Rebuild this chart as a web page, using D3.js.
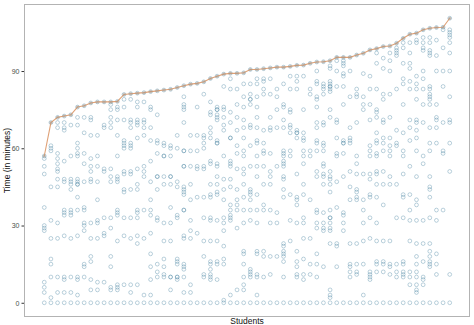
<!DOCTYPE html>
<html>
<head>
<meta charset="utf-8">
<script src="https://cdn.jsdelivr.net/npm/d3@7"></script>
<style>
  html, body { margin: 0; padding: 0; background: #fff; }
  svg { display: block; font-family: "Liberation Sans", Arial, sans-serif; }
</style>
</head>
<body>
<div id="chart"></div>
<script>
// ---------------------------------------------------------------
// Data: attempt times (minutes) per student, students sorted by max
// ---------------------------------------------------------------
const yTicks = [0, 30, 60, 90];
const xTitle = 'Students';
const yTitle = 'Time (in minutes)';

const studentTimes = [
  [57, 56, 53, 50, 37, 30, 29, 28, 8, 6, 4, 0],
  [70, 61, 60, 59, 45, 32, 25, 17, 15, 10, 2, 0],
  [72, 70, 68, 58, 56, 54, 52, 51, 48, 45, 31, 25, 10, 4, 0],
  [72.5, 70, 68, 67, 55, 48, 47, 34, 36, 35, 26, 10, 9, 4, 0],
  [73, 69, 57, 48, 47, 46, 44, 36, 35, 34, 25, 10, 4, 0],
  [76, 72, 69, 62, 60, 58, 57, 48, 47, 46, 46, 41, 36, 26, 10, 9, 3, 0],
  [76.5, 72, 66, 58, 54, 47, 37, 36, 31, 30, 28, 15, 14, 10, 0],
  [77.6, 72, 71, 65, 56, 53, 51, 48, 47, 31, 25, 18, 16, 9, 5, 0],
  [78, 65, 57, 53, 47, 40, 32, 31, 25, 8, 5, 0],
  [78, 69, 68, 52, 51, 33, 27, 26, 8, 0],
  [78, 77, 75, 72, 70, 68, 52, 49, 47, 33, 29, 18, 14, 6, 5, 0],
  [78.2, 76, 75, 71, 65, 57, 49, 48, 47, 36, 35, 34, 24, 7, 6, 5, 0],
  [80.9, 79, 76, 71, 63, 62, 61, 60, 51, 50, 44, 43, 33, 26, 7, 0],
  [81.2, 79, 71, 70, 68, 62, 61, 60, 51, 50, 44, 33, 25, 7, 4, 0],
  [81.4, 78, 76, 71, 70, 69, 64, 52, 46, 44, 36, 35, 33, 26, 23, 7, 0],
  [81.6, 78, 71, 70, 68, 65, 53, 51, 49, 36, 25, 3, 0],
  [82, 76, 75, 68, 63, 55, 47, 40, 36, 34, 27, 19, 14, 9, 3, 0],
  [82.3, 73, 63, 62, 58, 49, 49, 44, 33, 32, 15, 12, 10, 0],
  [82.6, 62, 61, 57, 57, 49, 46, 31, 24, 17, 14, 11, 10, 0],
  [82.9, 61, 60, 57, 49, 49, 46, 37, 31, 24, 10, 10, 5, 0],
  [83.6, 65, 60, 47, 45, 34, 33, 17, 16, 15, 10, 10, 9, 0],
  [84.3, 80, 77, 76, 75, 70, 59, 59, 53, 53, 45, 44, 43, 42, 36, 36, 26, 25, 15, 14, 13, 10, 4, 0],
  [84.9, 65, 59, 53, 46, 40, 32, 28, 25, 7, 4, 0],
  [85.2, 76, 65, 59, 53, 52, 41, 27, 0],
  [85.8, 81, 65, 64, 62, 60, 53, 52, 41, 33, 24, 18, 11, 10, 0],
  [87.1, 78, 74, 73, 68, 66, 64, 55, 54, 46, 42, 41, 33, 32, 24, 16, 15, 13, 11, 10, 9, 0],
  [88, 76, 75, 75, 73, 72, 71, 63, 62, 62, 54, 53, 49, 46, 43, 42, 32, 24, 16, 15, 9, 0],
  [88.8, 84, 76, 75, 72, 69, 67, 57, 48, 44, 40, 33, 31, 28, 22, 17, 15, 1, 0],
  [89.1, 87, 83, 74, 70, 64, 64, 55, 54, 53, 48, 45, 38, 36, 34, 33, 32, 3, 0],
  [89.1, 83, 77, 72, 67, 61, 58, 52, 44, 40, 38, 36, 29, 5, 0],
  [89.3, 85, 80, 76, 71, 68, 64, 59, 57, 52, 50, 46, 41, 36, 31, 20, 19, 15, 10, 7, 5, 0],
  [90.6, 85, 81, 79, 79, 77, 69, 68, 61, 53, 44, 43, 42, 40, 36, 32, 13, 12, 11, 10, 0],
  [90.6, 87, 85, 80, 76, 72, 68, 63, 62, 57, 53, 49, 42, 36, 31, 20, 19, 11, 10, 3, 0],
  [90.9, 87, 86, 83, 81, 67, 62, 59, 58, 53, 46, 38, 36, 20, 18, 10, 0],
  [91.2, 87, 81, 72, 68, 67, 58, 51, 49, 46, 36, 31, 18, 11, 0],
  [91.5, 83, 80, 75, 68, 53, 35, 31, 18, 0],
  [91.5, 85, 77, 76, 71, 68, 59, 58, 57, 55, 54, 53, 49, 48, 44, 41, 23, 22, 20, 19, 18, 16, 10, 0],
  [91.8, 88, 83, 75, 74, 69, 68, 66, 59, 57, 42, 32, 24, 0],
  [92.2, 88, 86, 83, 67, 66, 66, 64, 50, 41, 40, 38, 31, 20, 16, 14, 11, 10, 0],
  [92.3, 88, 75, 66, 64, 63, 59, 57, 54, 46, 42, 33, 31, 25, 17, 11, 9, 0],
  [93, 83, 81, 59, 57, 40, 25, 15, 11, 0],
  [93.5, 90, 86, 85, 80, 79, 76, 70, 68, 63, 62, 59, 51, 49, 36, 35, 31, 29, 19, 15, 10, 0],
  [93.6, 85, 84, 83, 81, 70, 69, 62, 61, 59, 54, 53, 50, 49, 46, 35, 31, 29, 28, 14, 0],
  [94, 92, 91, 86, 85, 84, 84, 83, 82, 75, 72, 51, 49, 48, 46, 43, 36, 33, 33, 31, 29, 28, 23, 5, 3, 2, 0],
  [95.3, 94, 90, 84, 71, 70, 64, 58, 57, 47, 37, 23, 22, 14, 0],
  [95.3, 94, 93, 92, 89, 88, 84, 77, 63, 62, 62, 58, 49, 35, 34, 31, 28, 0],
  [95.3, 90, 80, 68, 64, 63, 62, 51, 45, 40, 23, 15, 14, 12, 10, 0],
  [96.2, 83, 81, 80, 70, 57, 54, 50, 44, 43, 41, 40, 23, 15, 12, 11, 0],
  [96.9, 89, 80, 77, 75, 50, 40, 36, 31, 24, 15, 3, 0],
  [98.2, 88, 83, 77, 71, 61, 59, 57, 50, 48, 42, 41, 33, 25, 12, 11, 10, 9, 0],
  [98.7, 97, 93, 83, 75, 74, 72, 66, 63, 62, 58, 57, 51, 50, 46, 41, 31, 24, 16, 15, 12, 0],
  [99.5, 95, 91, 81, 79, 71, 70, 64, 62, 59, 51, 46, 38, 24, 16, 15, 12, 0],
  [99.7, 97, 94, 90, 81, 72, 64, 61, 59, 57, 49, 46, 24, 15, 14, 11, 0],
  [100.8, 99, 98, 97, 96, 83, 67, 62, 61, 46, 33, 15, 12, 10, 0],
  [102.7, 101, 99, 93, 87, 85, 77, 66, 59, 57, 50, 42, 41, 33, 16, 15, 12, 11, 10, 0],
  [104.3, 101, 97, 93, 91, 86, 83, 71, 68, 63, 53, 42, 36, 32, 24, 12, 10, 7, 0],
  [104.7, 102, 101, 88, 85, 83, 79, 71, 70, 67, 64, 59, 49, 40, 38, 32, 23, 18, 15, 12, 10, 7, 5, 4, 0],
  [106, 103, 101, 99, 98, 90, 87, 83, 77, 70, 57, 54, 32, 23, 16, 10, 9, 7, 0],
  [106.6, 103, 101, 98, 97, 96, 84, 83, 81, 80, 79, 77, 68, 62, 59, 49, 45, 44, 41, 33, 23, 20, 18, 16, 15, 14, 0],
  [106.9, 102, 96, 90, 77, 72, 71, 68, 62, 36, 32, 19, 15, 11, 0],
  [107, 106, 99, 90, 84, 70, 59, 58, 36, 0],
  [110.5, 106, 105, 104, 103, 101, 97, 90, 80, 71, 70, 62, 51, 11, 0]
];

// ---------------------------------------------------------------
// Setup
// ---------------------------------------------------------------
const width = 474, height = 325;
const margin = { top: 4, right: 4, bottom: 8, left: 24 };

const points = studentTimes.flatMap((times, i) => times.map(t => ({ student: i + 1, time: t })));
const maxLine = studentTimes.map((times, i) => ({ student: i + 1, time: d3.max(times) }));

const n = studentTimes.length;
const xPad = (n - 1) * 0.05;
const yMax = d3.max(points, d => d.time);
const yPad = yMax * 0.05;

const x = d3.scaleLinear()
  .domain([1 - xPad, n + xPad])
  .range([margin.left, width - margin.right]);

const y = d3.scaleLinear()
  .domain([-yPad, yMax + yPad])
  .range([height - margin.bottom, margin.top]);

const svg = d3.select('#chart').append('svg')
  .attr('width', width)
  .attr('height', height)
  .attr('viewBox', [0, 0, width, height]);

// panel
svg.append('rect')
  .attr('x', margin.left + 0.5)
  .attr('y', margin.top + 0.5)
  .attr('width', width - margin.left - margin.right - 1)
  .attr('height', height - margin.top - margin.bottom - 1)
  .attr('fill', '#fff')
  .attr('stroke', '#b3b3b3')
  .attr('stroke-width', 1);

// y axis
const yAxis = svg.append('g')
  .attr('transform', `translate(${margin.left},0)`)
  .call(d3.axisLeft(y).tickValues(yTicks).tickSize(2.5).tickPadding(2));
yAxis.select('.domain').remove();
yAxis.selectAll('.tick line').attr('stroke', '#333');
yAxis.selectAll('.tick text')
  .attr('fill', '#4d4d4d')
  .attr('font-size', 7);

// points
svg.append('g')
  .selectAll('circle')
  .data(points)
  .join('circle')
  .attr('cx', d => x(d.student))
  .attr('cy', d => y(d.time))
  .attr('r', 1.9)
  .attr('fill', 'none')
  .attr('stroke', '#4a86a3')
  .attr('stroke-opacity', 0.5)
  .attr('stroke-width', 0.75);

// max line
svg.append('path')
  .datum(maxLine)
  .attr('d', d3.line().x(d => x(d.student)).y(d => y(d.time)))
  .attr('fill', 'none')
  .attr('stroke', '#d9915e')
  .attr('stroke-opacity', 0.85)
  .attr('stroke-width', 1.1);

svg.append('g')
  .selectAll('circle')
  .data(maxLine)
  .join('circle')
  .attr('cx', d => x(d.student))
  .attr('cy', d => y(d.time))
  .attr('r', 1.5)
  .attr('fill', '#a7998e')
  .attr('fill-opacity', 0.65);

// titles
svg.append('text')
  .attr('x', (margin.left + width - margin.right) / 2)
  .attr('y', height - 1)
  .attr('text-anchor', 'middle')
  .attr('font-size', 8.5)
  .attr('fill', '#111')
  .text(xTitle);

svg.append('text')
  .attr('transform', `translate(10,${(margin.top + height - margin.bottom) / 2}) rotate(-90)`)
  .attr('text-anchor', 'middle')
  .attr('font-size', 8.5)
  .attr('fill', '#111')
  .text(yTitle);
</script>
</body>
</html>
